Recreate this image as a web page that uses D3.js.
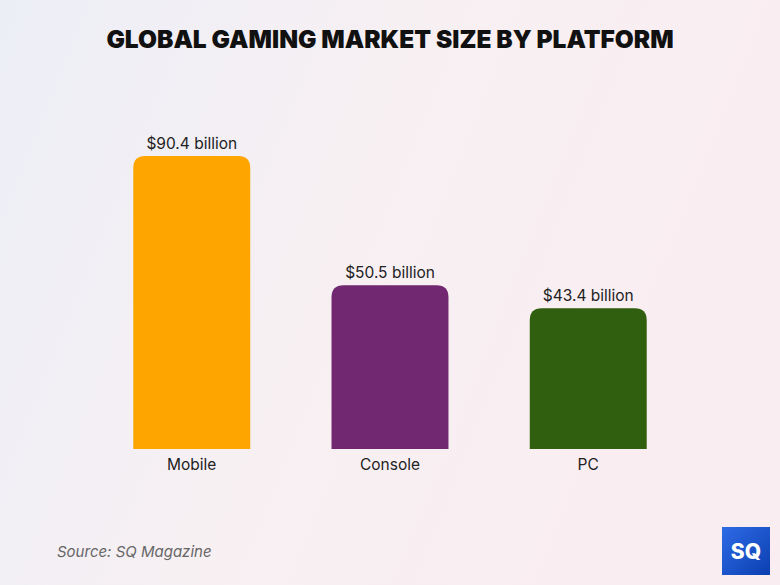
<!DOCTYPE html>
<html>
<head>
<meta charset="utf-8">
<script src="https://cdn.jsdelivr.net/npm/d3@7"></script>
<style>
  body { margin: 0; }
  svg { display: block; font-family: Inter, "Noto Sans", sans-serif; }
</style>
</head>
<body>
<div class="chart"></div>
<script>
const platforms = ["Mobile", "Console", "PC"];
const marketSize = [90.4, 50.5, 43.4];
const barColors = ["#FFA500", "#722870", "#2F5F0F"];

const width = 780;
const height = 585;
const baseY = 449;

const svg = d3.select('.chart')
  .append('svg')
  .attr('width', width)
  .attr('height', height);

// soft background gradient
const defs = svg.append('defs');
const bg = defs.append('linearGradient')
  .attr('id', 'bg')
  .attr('x1', '0%').attr('y1', '0%')
  .attr('x2', '100%').attr('y2', '30%');
bg.append('stop').attr('offset', '0%').attr('stop-color', '#ECEEF6');
bg.append('stop').attr('offset', '50%').attr('stop-color', '#F7F0F3');
bg.append('stop').attr('offset', '100%').attr('stop-color', '#FAEDF1');

const logoGrad = defs.append('linearGradient')
  .attr('id', 'logo')
  .attr('x1', '0%').attr('y1', '0%')
  .attr('x2', '100%').attr('y2', '100%');
logoGrad.append('stop').attr('offset', '0%').attr('stop-color', '#2E6BE6');
logoGrad.append('stop').attr('offset', '100%').attr('stop-color', '#0B3FB0');

svg.append('rect')
  .attr('width', width)
  .attr('height', height)
  .attr('fill', 'url(#bg)');

svg.append('text')
  .attr('x', width / 2)
  .attr('y', 48)
  .attr('text-anchor', 'middle')
  .style('font-size', '24.5px')
  .style('font-weight', 900)
  .attr('fill', '#111')
  .text('GLOBAL GAMING MARKET SIZE BY PLATFORM');

const xScale = d3.scaleBand()
  .domain(platforms)
  .range([52, 728])
  .padding(0.41);

const yScale = d3.scaleLinear()
  .domain([0, 90.4])
  .range([baseY, 156]);

const r = 12;
// bar with rounded top corners
function barPath(i) {
  const x0 = xScale(platforms[i]);
  const x1 = x0 + xScale.bandwidth();
  const y0 = yScale(marketSize[i]);
  return `M${x0},${baseY} L${x0},${y0 + r} Q${x0},${y0} ${x0 + r},${y0}
    L${x1 - r},${y0} Q${x1},${y0} ${x1},${y0 + r} L${x1},${baseY} Z`;
}

svg.selectAll('path.bar')
  .data(marketSize)
  .enter()
  .append('path')
  .attr('class', 'bar')
  .attr('d', (d, i) => barPath(i))
  .attr('fill', (d, i) => barColors[i]);

svg.selectAll('text.value')
  .data(marketSize)
  .enter()
  .append('text')
  .attr('class', 'value')
  .attr('x', (d, i) => xScale(platforms[i]) + xScale.bandwidth() / 2)
  .attr('y', d => yScale(d) - 7)
  .attr('text-anchor', 'middle')
  .style('font-size', '15.5px')
  .attr('fill', '#222')
  .text(d => `$${d} billion`);

svg.selectAll('text.cat')
  .data(platforms)
  .enter()
  .append('text')
  .attr('class', 'cat')
  .attr('x', d => xScale(d) + xScale.bandwidth() / 2)
  .attr('y', 470)
  .attr('text-anchor', 'middle')
  .style('font-size', '15.5px')
  .attr('fill', '#222')
  .text(d => d);

svg.append('text')
  .attr('x', 57)
  .attr('y', 557)
  .style('font-size', '15px')
  .style('font-style', 'italic')
  .attr('fill', '#666')
  .text('Source: SQ Magazine');

// logo
svg.append('rect')
  .attr('x', 722).attr('y', 527)
  .attr('width', 48).attr('height', 48)
  .attr('fill', 'url(#logo)');
svg.append('text')
  .attr('x', 746).attr('y', 559)
  .attr('text-anchor', 'middle')
  .style('font-size', '21px')
  .style('font-weight', 800)
  .attr('fill', '#fff')
  .text('SQ');
</script>
</body>
</html>
